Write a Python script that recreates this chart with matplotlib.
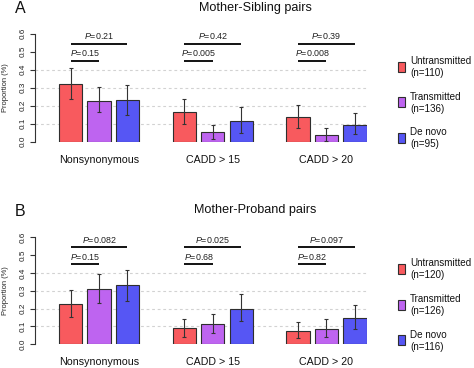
import matplotlib
matplotlib.use("Agg")
import matplotlib.pyplot as plt
from matplotlib.patches import Rectangle

plt.rcParams['font.family'] = ['Liberation Sans', 'DejaVu Sans']
plt.rcParams['mathtext.fontset'] = 'custom'
plt.rcParams['mathtext.rm'] = 'Liberation Sans'
plt.rcParams['mathtext.it'] = 'Liberation Sans:italic'

categories = ["Nonsynonymous", "CADD > 15", "CADD > 20"]
series_names = ["Untransmitted", "Transmitted", "De novo"]
colors = ["#F85A5E", "#BE64F0", "#5656F4"]

# Panel A: Mother-Sibling pairs
a_title = "Mother-Sibling pairs"
a_n = [110, 136, 95]
a_vals = [[0.320, 0.163, 0.137],   # Untransmitted
          [0.228, 0.052, 0.037],   # Transmitted
          [0.232, 0.115, 0.095]]   # De novo
a_lo = [[0.235, 0.100, 0.074],
        [0.163, 0.013, 0.006],
        [0.148, 0.050, 0.041]]
a_hi = [[0.411, 0.237, 0.202],
        [0.302, 0.091, 0.074],
        [0.317, 0.191, 0.159]]
a_p_trans = ["0.15", "0.005", "0.008"]
a_p_denovo = ["0.21", "0.42", "0.39"]

# Panel B: Mother-Proband pairs
b_title = "Mother-Proband pairs"
b_n = [120, 126, 116]
b_vals = [[0.226, 0.091, 0.077],
          [0.312, 0.112, 0.088],
          [0.331, 0.200, 0.148]]
b_lo = [[0.151, 0.043, 0.034],
        [0.233, 0.065, 0.039],
        [0.243, 0.131, 0.086]]
b_hi = [[0.303, 0.142, 0.125],
        [0.393, 0.168, 0.144],
        [0.417, 0.280, 0.219]]
b_p_trans = ["0.15", "0.68", "0.82"]
b_p_denovo = ["0.082", "0.025", "0.097"]

yticks = [0.0, 0.1, 0.2, 0.3, 0.4, 0.5, 0.6]
grid_levels = [0.1, 0.2, 0.3, 0.4]

W, H = 474, 368
fig = plt.figure(figsize=(W / 100, H / 100), dpi=100)

first_left = 1.03
group_pitch = 4.88
bar_pitch = 1.22
bar_w = 1.0


def draw_panel(rect, label, title, vals, lo, hi, p_trans, p_denovo, ns, title_base_px, label_base_px, legend_centers):
    ax = fig.add_axes(rect)
    ax.set_xlim(0, 14.25)
    ax.set_ylim(0, 0.6)
    for g in grid_levels:
        ax.axhline(g, color="#d2d2d2", lw=0.8, ls=(0, (2.5, 2.5)), zorder=0)
    for s in range(3):
        for g in range(3):
            left = first_left + g * group_pitch + s * bar_pitch
            xc = left + bar_w / 2
            ax.bar(xc, vals[s][g], width=bar_w, color=colors[s],
                   edgecolor="#2e2e2e", linewidth=0.8, zorder=2)
            ax.errorbar(xc, vals[s][g],
                        yerr=[[vals[s][g] - lo[s][g]], [hi[s][g] - vals[s][g]]],
                        fmt="none", ecolor="#333333", elinewidth=0.8,
                        capsize=1.5, capthick=0.8, zorder=3)
    for g in range(3):
        c_red = first_left + g * group_pitch + bar_w / 2
        c_pur = c_red + bar_pitch
        c_blu = c_red + 2 * bar_pitch
        # long line (red vs de novo)
        ax.plot([c_red, c_blu], [0.545, 0.545], color="black", lw=1.3,
                solid_capstyle="butt", clip_on=False)
        ax.text((c_red + c_blu) / 2, 0.558, r"$P$=" + p_denovo[g],
                ha="center", va="bottom", fontsize=6.4, color="#222222",
                clip_on=False)
        ax.plot([c_red, c_pur], [0.45, 0.45], color="black", lw=1.3,
                solid_capstyle="butt", clip_on=False)
        ax.text((c_red + c_pur) / 2, 0.463, r"$P$=" + p_trans[g],
                ha="center", va="bottom", fontsize=6.4, color="#222222",
                clip_on=False)
        ax.text(c_red + bar_pitch, -0.101, categories[g], ha="center",
                va="center", fontsize=7.7, color="#111111", clip_on=False)
    for sp in ["top", "right", "bottom"]:
        ax.spines[sp].set_visible(False)
    ax.spines["left"].set_color("#333333")
    ax.spines["left"].set_linewidth(0.8)
    ax.set_xticks([])
    ax.set_yticks(yticks)
    ax.set_yticklabels(["%.1f" % t for t in yticks], rotation=90, va="center")
    ax.tick_params(axis="y", length=3.6, width=0.8, color="#333333",
                   labelsize=5.9, pad=2.3, labelcolor="#222222")
    ax.set_ylabel("Proportion (%)", fontsize=5.4, color="#222222", labelpad=3)
    ax.yaxis.set_label_coords(-0.078, 0.5)

    fig.text(255 / W, 1 - title_base_px / H, title, ha="center",
             va="baseline", fontsize=9.1, color="#111111")
    fig.text(15 / W, 1 - label_base_px / H, label, ha="left",
             va="baseline", fontsize=11.5, color="#111111")
    for s in range(3):
        cy = legend_centers[s]
        fig.patches.append(Rectangle((398 / W, 1 - (cy + 5) / H), 7 / W, 10 / H,
                                     transform=fig.transFigure,
                                     facecolor=colors[s], edgecolor="#2e2e2e",
                                     linewidth=0.8))
        fig.text(410 / W, 1 - (cy + 0.5) / H, "%s\n(n=%d)" % (series_names[s], ns[s]),
                 ha="left", va="center", fontsize=7.1, linespacing=1.25,
                 color="#111111")
    return ax


draw_panel([35 / W, 1 - 141.7 / H, 332 / W, 108 / H], "A", a_title,
           a_vals, a_lo, a_hi, a_p_trans, a_p_denovo, a_n,
           10.5, 13, [67, 102, 138])
draw_panel([35 / W, 1 - 344.3 / H, 332 / W, 107 / H], "B", b_title,
           b_vals, b_lo, b_hi, b_p_trans, b_p_denovo, b_n,
           213, 215.5, [269, 305, 340])

fig.savefig("out.png", dpi=100)
